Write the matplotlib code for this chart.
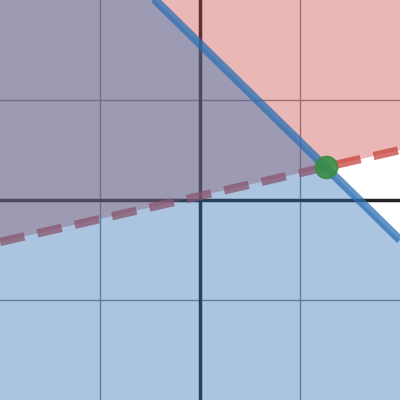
import numpy as np
import matplotlib.pyplot as plt

# blue line: y = -x + b_blue (shade below), red dashed: y = m*x + b_red (shade above)
blue_slope, blue_icpt = -0.98, 1.56
red_slope, red_icpt = 0.23, 0.04
point = (1.26, 0.33)

xs = np.linspace(-2, 2, 200)
yb = blue_slope * xs + blue_icpt
yr = red_slope * xs + red_icpt

fig = plt.figure(figsize=(4, 4), dpi=100)
ax = fig.add_axes([0, 0, 1, 1])
ax.set_xlim(-2, 2)
ax.set_ylim(-2, 2)

for v in [-1, 1]:
    ax.axvline(v, color='#888888', lw=1, zorder=1)
    ax.axhline(v, color='#888888', lw=1, zorder=1)
ax.axhline(0, color='#222222', lw=2.5, zorder=2)
ax.axvline(0, color='#222222', lw=2.5, zorder=2)

ax.fill_between(xs, yr, 2, color='#c74440', alpha=0.38, lw=0, zorder=3)
ax.plot(xs, yr, color='#c74440', lw=6, alpha=0.75, dashes=(3, 1.6), zorder=4)
ax.fill_between(xs, -2, yb, color='#2d70b3', alpha=0.4, lw=0, zorder=5)
ax.plot(xs, yb, color='#2d70b3', lw=6, alpha=0.75, solid_capstyle='butt', zorder=6)
ax.plot(*point, 'o', color='#388c46', ms=16, alpha=0.9, zorder=7)

ax.axis('off')
fig.savefig('out.png', dpi=100)
